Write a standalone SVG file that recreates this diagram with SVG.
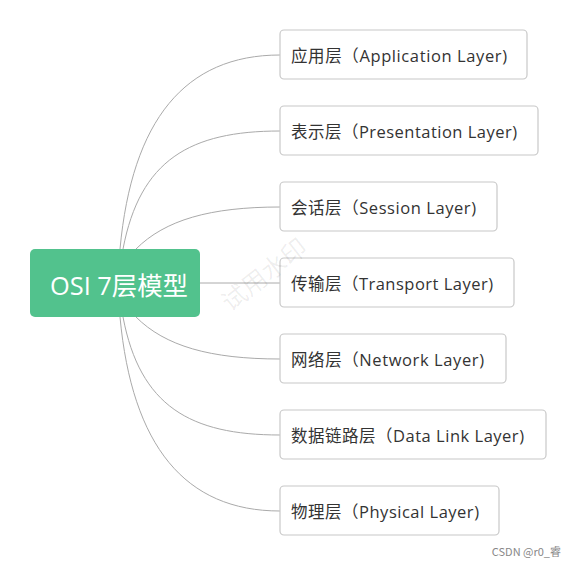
<svg xmlns="http://www.w3.org/2000/svg" width="576" height="566" viewBox="0 0 576 566">
<style>
.node rect{fill:#fff;stroke:#c8c8c8;stroke-width:1.2}
.node text{font-family:"Open Sans","Noto Sans CJK SC",sans-serif;font-size:16.5px;fill:#333;dominant-baseline:central}
.conn path{fill:none;stroke:#aaa;stroke-width:1}
</style>
<rect width="576" height="566" fill="#fff"/>
<g id="connectors" class="conn">
<path d="M120,249 C132,120 185,55 280,55"/>
<path d="M123,249 C140,160 190,131 280,131"/>
<path d="M136,249 C165,220 210,207 280,207"/>
<path d="M200,283 L280,283"/>
<path d="M136,317 C165,346 210,359 280,359"/>
<path d="M123,317 C140,406 190,435 280,435"/>
<path d="M120,317 C132,446 185,511 280,511"/>
</g>
<g id="root">
<rect x="30" y="249" width="170" height="68" rx="5" fill="#52c28d"/>
<text x="50" y="285" textLength="138" lengthAdjust="spacingAndGlyphs" font-family="Open Sans,Noto Sans CJK SC,sans-serif" font-size="25" fill="#fff" dominant-baseline="central">OSI 7层模型</text>
</g>
<g id="n1" class="node"><rect x="280" y="30" width="247" height="49" rx="4"/><text x="291" y="55" textLength="216">应用层（Application Layer)</text></g>
<g id="n2" class="node"><rect x="280" y="106" width="258" height="49" rx="4"/><text x="291" y="131" textLength="226">表示层（Presentation Layer)</text></g>
<g id="n3" class="node"><rect x="280" y="182" width="217" height="49" rx="4"/><text x="291" y="207" textLength="185">会话层（Session Layer)</text></g>
<g id="n4" class="node"><rect x="280" y="258" width="234" height="49" rx="4"/><text x="291" y="283" textLength="202">传输层（Transport Layer)</text></g>
<g id="n5" class="node"><rect x="280" y="334" width="226" height="49" rx="4"/><text x="291" y="359" textLength="193">网络层（Network Layer)</text></g>
<g id="n6" class="node"><rect x="280" y="410" width="266" height="49" rx="4"/><text x="291" y="435" textLength="233">数据链路层（Data Link Layer)</text></g>
<g id="n7" class="node"><rect x="280" y="486" width="219" height="49" rx="4"/><text x="291" y="511" textLength="188">物理层（Physical Layer)</text></g>
<text x="263" y="273" text-anchor="middle" transform="rotate(-38 263 273)" font-family="Noto Sans CJK SC,sans-serif" font-size="25" fill="#000" fill-opacity="0.07" dominant-baseline="central">试用水印</text>
<text x="561" y="551" text-anchor="end" font-family="Noto Sans CJK SC,sans-serif" font-size="11" fill="#888" dominant-baseline="central">CSDN @r0_睿</text>
</svg>
